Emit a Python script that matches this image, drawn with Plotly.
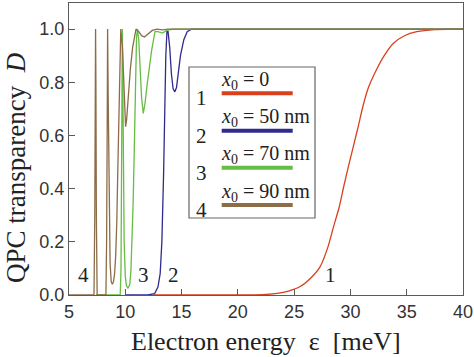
import plotly.graph_objects as go

# ---- data ----
x_red = [12.5, 21, 22.5, 23.5, 24.5, 25.5, 26.5, 27.3, 28.0, 28.5, 29.0, 29.4, 29.8, 30.25, 30.7, 31.1,
         31.6, 32.3, 33.0, 33.8, 34.8, 35.9, 37.5, 40]
y_red = [0, 0, 0.002, 0.006, 0.015, 0.031, 0.065, 0.106, 0.18, 0.257, 0.33, 0.407, 0.48, 0.557, 0.635, 0.708,
         0.78, 0.846, 0.90, 0.946, 0.975, 0.99, 0.998, 1.0]

x_blue = [10, 12.0, 12.6, 12.9, 13.1, 13.25, 13.4, 13.5, 13.6, 13.7, 13.8, 13.95, 14.1, 14.25, 14.4, 14.55,
          14.7, 14.9, 15.2, 15.5, 15.9, 16.5, 40]
y_blue = [0, 0, 0.005, 0.03, 0.08, 0.2, 0.45, 0.7, 0.9, 0.99, 0.99, 0.93, 0.83, 0.775, 0.764, 0.78,
          0.83, 0.9, 0.96, 0.99, 1.0, 1.0, 1.0]

x_green = [7.4, 9.55, 9.62, 9.67, 9.71, 9.74, 9.78, 9.83, 9.9, 10.0, 10.1, 10.25, 10.4, 10.5, 10.6, 10.7,
           10.8, 10.9, 11.0, 11.08, 11.2, 11.3, 11.45, 11.6, 11.75, 11.95, 12.15, 12.34, 12.64, 12.9, 13.3,
           13.7, 14.2, 40]
y_green = [0, 0, 0.1, 0.4, 0.8, 1.0, 0.8, 0.45, 0.2, 0.07, 0.035, 0.025, 0.04, 0.09, 0.2, 0.35,
           0.55, 0.8, 0.97, 1.0, 0.96, 0.87, 0.74, 0.683, 0.72, 0.795, 0.87, 0.92, 0.99, 0.99, 0.985,
           0.995, 1.0, 1.0]

x_brown = [5, 7.22, 7.29, 7.33, 7.36, 7.39, 7.43, 7.5, 8.28, 8.34, 8.39, 8.43, 8.48, 8.53, 8.58, 8.65,
           8.75, 8.85, 8.95, 9.05, 9.15, 9.25, 9.35, 9.45, 9.53, 9.6, 9.75, 9.85, 9.95, 10.03, 10.12,
           10.25, 10.45, 10.65, 10.85, 10.95, 11.2, 11.45, 11.7, 12.0, 12.4, 12.8, 13.3, 13.8, 40]
y_brown = [0, 0, 0.3, 0.8, 1.0, 0.8, 0.3, 0, 0, 0.2, 0.6, 1.0, 0.75, 0.45, 0.25, 0.12,
           0.05, 0.04, 0.05, 0.08, 0.15, 0.28, 0.5, 0.75, 0.92, 1.0, 0.93, 0.8, 0.68, 0.633, 0.66,
           0.74, 0.85, 0.93, 0.985, 1.0, 0.99, 0.975, 0.97, 0.98, 0.995, 1.0, 0.997, 1.0, 1.0]

series_x = [x_red, x_blue, x_green, x_brown]
series_y = [y_red, y_blue, y_green, y_brown]
series_shape = ["spline", "linear", "linear", "linear"]
series_num = ["1", "2", "3", "4"]
series_label = ["<i>x</i><sub>0</sub> = 0", "<i>x</i><sub>0</sub> = 50 nm",
                "<i>x</i><sub>0</sub> = 70 nm", "<i>x</i><sub>0</sub> = 90 nm"]
colors = ["#d8401e", "#2f2a8c", "#66bd44", "#8c6d48"]

curve_label_x = [28.2, 14.26, 11.66, 6.27]
curve_label_y = [0.075, 0.075, 0.075, 0.075]

x_ticks = [5, 10, 15, 20, 25, 30, 35, 40]
y_ticks = [0.0, 0.2, 0.4, 0.6, 0.8, 1.0]

serif = "Liberation Serif, Times New Roman, serif"
sans = "Liberation Sans, Arial, sans-serif"
axis_col = "#5a5a5a"

fig = go.Figure()
for xs, ys, c, sh in zip(series_x, series_y, colors, series_shape):
    fig.add_trace(go.Scatter(x=xs, y=ys, mode="lines", line=dict(color=c, width=1.3, shape=sh, smoothing=0.6),
                             showlegend=False, hoverinfo="skip"))

# curve labels inside the plot
for t, lx, ly in zip(series_num, curve_label_x, curve_label_y):
    fig.add_annotation(x=lx, y=ly, xref="x", yref="y", text=t, showarrow=False,
                       font=dict(family=serif, size=21, color="#222"), xanchor="center", yanchor="middle")

# custom legend box (paper coords)
L, R, T, B = 69, 463, 3, 295
def px(v):
    return (v - L) / (R - L)
def py(v):
    return (B - v) / (B - T)

fig.add_shape(type="rect", xref="paper", yref="paper", x0=px(189), x1=px(315), y0=py(218), y1=py(67),
              line=dict(color="#666", width=1.2), fillcolor="white", layer="above")
line_y = [93.3, 130.7, 167.7, 205]
for i in range(4):
    ly = line_y[i]
    fig.add_shape(type="line", xref="paper", yref="paper", x0=px(221.7), x1=px(292.7), y0=py(ly), y1=py(ly),
                  line=dict(color=colors[i], width=4), layer="above")
    fig.add_annotation(xref="paper", yref="paper", x=px(201.7), y=py(ly + 5), text=series_num[i],
                       showarrow=False, font=dict(family=serif, size=21, color="#222"),
                       xanchor="center", yanchor="middle")
    fig.add_annotation(xref="paper", yref="paper", x=px(219), y=py(ly - 13), text=series_label[i],
                       showarrow=False, font=dict(family=serif, size=20, color="#222"),
                       xanchor="left", yanchor="middle")

# axis titles
fig.add_annotation(xref="paper", yref="paper", x=px(16), y=py(168),
                   text="QPC transparency\u00a0 <i>D</i>", showarrow=False, textangle=-90,
                   font=dict(family=serif, size=27, color="#222"), xanchor="center", yanchor="middle")
fig.add_annotation(xref="paper", yref="paper", x=px(266), y=py(341),
                   text="Electron energy\u00a0 ε\u00a0 [meV]", showarrow=False,
                   font=dict(family=serif, size=26, color="#222"), xanchor="center", yanchor="middle")

fig.update_xaxes(range=[5, 40], tickvals=x_ticks, ticktext=[str(v) for v in x_ticks],
                 ticks="inside", ticklen=6, tickcolor=axis_col, tickwidth=1.2,
                 showline=True, linecolor=axis_col, linewidth=1.3, mirror=True,
                 showgrid=False, zeroline=False, automargin=False,
                 tickfont=dict(family=sans, size=18, color="#333"))
fig.update_yaxes(range=[0, 1.098], tickvals=y_ticks, ticktext=[f"{v:.1f}" for v in y_ticks],
                 ticks="inside", ticklen=6, tickcolor=axis_col, tickwidth=1.2,
                 showline=True, linecolor=axis_col, linewidth=1.3, mirror=True,
                 showgrid=False, zeroline=False, automargin=False,
                 tickfont=dict(family=sans, size=18, color="#333"))

fig.update_layout(width=474, height=357, margin=dict(l=69, r=11, t=3, b=62),
                  plot_bgcolor="white", paper_bgcolor="white")

fig.write_html("out.html", config={"displayModeBar": False},
               post_script="document.body.style.margin='0';document.body.style.padding='0';")
